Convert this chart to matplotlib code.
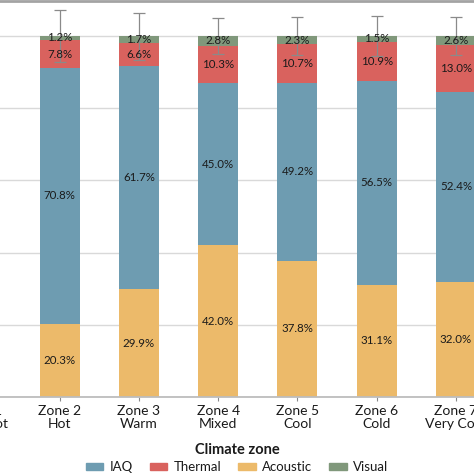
import matplotlib
matplotlib.use("Agg")
import matplotlib.pyplot as plt
from matplotlib.lines import Line2D
import numpy as np

plt.rcParams['font.family'] = ['Lato', 'DejaVu Sans']

zones = ["Zone 1\nVery Hot", "Zone 2\nHot", "Zone 3\nWarm", "Zone 4\nMixed",
         "Zone 5\nCool", "Zone 6\nCold", "Zone 7\nVery Cold"]
acoustic = [24.9, 20.3, 29.9, 42.0, 37.8, 31.1, 32.0]
iaq      = [66.2, 70.8, 61.7, 45.0, 49.2, 56.5, 52.4]
thermal  = [7.5, 7.8, 6.6, 10.3, 10.7, 10.9, 13.0]
visual   = [1.4, 1.2, 1.7, 2.8, 2.3, 1.5, 2.6]
err      = [6.0, 7.2, 6.4, 5.0, 5.3, 5.5, 5.3]

colors = {"IAQ": "#6e9cb1", "Thermal": "#d9625e", "Acoustic": "#ecba6a", "Visual": "#80987b"}

# the reference is a crop of a wider chart: the axes extend past the left edge
W = 474.0
unit = 79.25          # pixels per category
x0_vis = 0.247        # data x at the left edge of the picture
x_min, x_max = -0.7, 6.224
left_px = (x_min - x0_vis) * unit
width_px = (x_max - x_min) * unit

fig = plt.figure(figsize=(4.74, 4.74), dpi=100)
ax = fig.add_axes([left_px / W, (474 - 397) / 474, width_px / W, 397 / 474])

x = np.arange(len(zones))
w = 0.505
a = np.array(acoustic); q = np.array(iaq); t = np.array(thermal); v = np.array(visual)

ax.bar(x, a, w, color=colors["Acoustic"], zorder=2)
ax.bar(x, q, w, bottom=a, color=colors["IAQ"], zorder=2)
ax.bar(x, t, w, bottom=a + q, color=colors["Thermal"], zorder=2)
ax.bar(x, v, w, bottom=a + q + t, color=colors["Visual"], zorder=2)

tot = a + q + t + v
ax.errorbar(x, tot, yerr=err, fmt='none', ecolor='#8a8a8a', elinewidth=0.9,
            capsize=4, capthick=0.9, zorder=5)

fs = 8.3
# Zone 1's value labels lie entirely outside the visible crop, so only zones 2-7 are labelled
for i in range(1, len(zones)):
    for bottom, val in [(0, a[i]), (a[i], q[i]), (a[i] + q[i], t[i]), (a[i] + q[i] + t[i], v[i])]:
        ax.text(x[i], bottom + val / 2, f"{val:.1f}%", ha='center', va='center',
                fontsize=fs, color='#1a1a1a', zorder=6, clip_on=True)

ax.set_yticks([0, 20, 40, 60, 80, 100])
ax.set_yticklabels([])
ax.tick_params(axis='y', length=0)
ax.grid(axis='y', color='#d9d9d9', linewidth=1, zorder=0)
ax.set_axisbelow(True)
for s in ['top', 'right', 'left']:
    ax.spines[s].set_visible(False)
ax.spines['bottom'].set_color('#bdbdbd')
ax.spines['bottom'].set_linewidth(1.3)

ax.set_xticks(x)
ax.set_xticklabels(zones, fontsize=10, color='#1a1a1a', linespacing=1.1)
ax.tick_params(axis='x', length=3, color='#8a8a8a', pad=3)

ax.set_xlim(x_min, x_max)
ax.set_ylim(0, 110)

fig.text(0.5, 1 - 450 / 474, "Climate zone", ha='center', va='center',
         fontsize=10.5, fontweight='bold', color='#1a1a1a')

handles = [plt.Rectangle((0, 0), 1, 1, color=colors[k]) for k in ["IAQ", "Thermal", "Acoustic", "Visual"]]
fig.legend(handles, ["IAQ", "Thermal", "Acoustic", "Visual"], loc='center',
           bbox_to_anchor=(0.5, 1 - 467 / 474), ncol=4, frameon=False, fontsize=9.5,
           handlelength=1.3, handleheight=0.45, handletextpad=0.5, columnspacing=1.3,
           labelcolor='#1a1a1a')

fig.add_artist(Line2D([0, 1], [1 - 1.2 / 474, 1 - 1.2 / 474], color='#a3a3a3',
                      linewidth=2.0, transform=fig.transFigure))

fig.savefig("out.png", dpi=100)
